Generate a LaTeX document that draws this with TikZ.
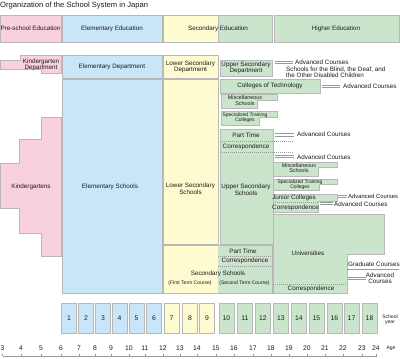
\documentclass[tikz,border=0pt]{standalone}
\usepackage{fontspec}
\setmainfont{Liberation Sans}
\definecolor{pk}{HTML}{F9D0DE}
\definecolor{bl}{HTML}{C9E6F9}
\definecolor{ye}{HTML}{FFFBD0}
\definecolor{gr}{HTML}{CAE5CB}
\definecolor{bord}{HTML}{B8B8B8}
\definecolor{txt}{HTML}{1A1A1A}
\definecolor{ln}{HTML}{999999}
\begin{document}
\begin{tikzpicture}[x=1pt,y=-1pt,
  bx/.style={draw=bord, line width=0.5pt},
  lab/.style={font=\fontsize{6.3}{5.8}\selectfont, text=txt, inner sep=0pt, align=center},
  sm/.style={font=\fontsize{5.4}{5.2}\selectfont, text=txt, inner sep=0pt, align=center},
  xs/.style={font=\fontsize{5}{5}\selectfont, text=txt, inner sep=0pt, align=center},
  dl/.style={draw=ln, line width=0.4pt},
  dt/.style={draw=ln, line width=0.4pt, dash pattern=on 1pt off 1pt}]
\useasboundingbox (0,0) rectangle (400,359);

\node[anchor=west, font=\fontsize{7.6}{8}\selectfont, text=txt, inner sep=0pt] (title) at (0,6) {Organization of the School System in Japan};

% header row
\filldraw[pk, bx] (0,15) rectangle (61,42);
\node[lab] (hpre) at (30.5,28.5) {Pre-school Education};
\filldraw[bl, bx] (62,15) rectangle (162,42);
\node[lab] (hele) at (112,28.5) {Elementary Education};
\filldraw[ye, bx] (163,15) rectangle (218,42);
\filldraw[gr, bx] (218,15) rectangle (272,42);
\node[lab] (hsec) at (218,28.5) {Secondary Education};
\filldraw[gr, bx] (274,15) rectangle (399,42);
\node[lab] (hhig) at (336,28.5) {Higher Education};

% kindergarten department
\filldraw[pk, bx] (0,60.5) -- (20,60.5) -- (20,55) -- (61,55) -- (61,73) -- (41,73) -- (41,69) -- (0,69) -- cycle;
\node[lab] (kdep) at (41,64.5) {Kindergarten\\Department};

% kindergartens
\filldraw[pk, bx] (41,117) -- (61,117) -- (61,256) -- (41,256) -- (41,233) -- (19,233) -- (19,208) -- (0,208) -- (0,163) -- (19,163) -- (19,139) -- (41,139) -- cycle;
\node[lab] (kind) at (31,187) {Kindergartens};

% elementary
\filldraw[bl, bx] (62,55) rectangle (162,78);
\node[lab] (edep) at (112,66.5) {Elementary Department};
\filldraw[bl, bx] (62,79) rectangle (162,293);
\node[lab] (esch) at (110,187) {Elementary Schools};

% lower secondary
\filldraw[ye, bx] (163,55) rectangle (218,78);
\node[lab] (ldep) at (190.5,67) {Lower Secondary\\Department};
\filldraw[ye, bx] (163,79) rectangle (218,244);
\node[lab] (lsch) at (190.5,189) {Lower Secondary\\Schools};

% upper secondary department
\filldraw[gr, bx] (220,60) rectangle (272,76);
\node[lab] (udep) at (246,67.5) {Upper Secondary\\Department};
\draw[dl] (275,61.3) -- (293,61.3) (275,63.5) -- (293,63.5);
\node[lab, anchor=west] (adv1) at (295,62.5) {Advanced Courses};
\node[lab, anchor=west, align=left] (blind) at (286,72) {Schools for the Blind, the Deaf, and\\the Other Disabled Children};

% colleges of technology
\filldraw[gr, bx] (220,79) rectangle (320,93);
\node[lab] (coll) at (270,86) {Colleges of Technology};
\draw[dl] (322,85) -- (340,85) (322,87.2) -- (340,87.2);
\node[lab, anchor=west] (adv2) at (343,86) {Advanced Courses};

% misc 1
\filldraw[gr, bx] (221,94) -- (277,94) -- (277,100) -- (257,100) -- (257,108) -- (221,108) -- cycle;
\node[sm] (misc1) at (245,100.5) {Miscellaneous\\Schools};
% spec 1
\filldraw[gr, bx] (221,111) -- (277,111) -- (277,117) -- (259,117) -- (259,125) -- (221,125) -- cycle;
\node[xs] (spec1) at (245,118) {Specialized Training\\Colleges};

% upper secondary schools
\filldraw[gr, bx] (220,129) rectangle (273,244);
\node[lab] (psch) at (246,135) {Part Time};
\draw[dt] (220,141) -- (293,141);
\node[lab] (pcor) at (246,147) {Correspondence};
\draw[dt] (220,152) -- (293,152);
\node[lab] (usch) at (246,189.5) {Upper Secondary\\Schools};
\draw[dl] (275,133.3) -- (294,133.3) (275,135.7) -- (294,135.7);
\node[lab, anchor=west] (adv3) at (297,134) {Advanced Courses};
\draw[dl] (275,155) -- (294,155) (275,157.3) -- (294,157.3);
\node[lab, anchor=west] (adv4) at (297,157) {Advanced Courses};

% misc 2
\filldraw[gr, bx] (273,162) -- (337,162) -- (337,167) -- (318,167) -- (318,176) -- (273,176) -- cycle;
\node[sm] (misc2) at (299,168) {Miscellaneous\\Schools};
% spec 2
\filldraw[gr, bx] (273,179) -- (337,179) -- (337,184) -- (319,184) -- (319,190) -- (273,190) -- cycle;
\node[xs] (spec2) at (300,184.5) {Specialized Training\\Colleges};
% junior colleges
\filldraw[gr, bx] (273,194) -- (337,194) -- (337,201) -- (318,201) -- (318,212) -- (273,212) -- cycle;
\draw[dt] (273,202.5) -- (318,202.5);
\node[lab] (jc) at (294,198) {Junior Colleges};
\node[lab] (jcor) at (295.5,207.5) {Correspondence};
\draw[dl] (338,194.8) -- (347,194.8) (338,197) -- (347,197);
\node[lab, anchor=west, font=\fontsize{5.9}{5.8}\selectfont] (adv5) at (348,196) {Advanced Courses};
\draw[dl] (320,202) -- (333,202) (320,204.5) -- (333,204.5);
\node[lab, anchor=west] (adv6) at (334,204) {Advanced Courses};

% universities
\filldraw[gr, bx] (273,214) -- (384,214) -- (384,254) -- (347,254) -- (347,293) -- (273,293) -- cycle;
\draw[dt] (273,284) -- (347,284);
\node[lab] (univ) at (308,253) {Universities};
\node[lab] (ucor) at (311,289) {Correspondence};
\node[lab, anchor=west] (grad) at (348,264) {Graduate Courses};
\draw[dl] (347,269) -- (399,269);
\draw[dl] (348,276.7) -- (366,276.7) (348,279.2) -- (366,279.2);
\node[lab] (adv7) at (380,278) {Advanced\\Courses};

% secondary schools
\fill[ye] (163,245) rectangle (218,293);
\fill[gr] (218,245) rectangle (272,293);
\draw[bx] (163,245) rectangle (272,293);
\node[lab] (ssp) at (243,251) {Part Time};
\draw[dt] (218,256) -- (272,256);
\node[lab] (ssc) at (245,261) {Correspondence};
\draw[dt] (218,266) -- (272,266);
\node[lab] (ss) at (218,274) {Secondary Schools};
\node[xs] (ss1) at (190,283) {(First Term Course)};
\node[xs] (ss2) at (244.5,283) {(Second Term Course)};

% school years
\foreach \c/\col [count=\n] in {69/bl,86/bl,103/bl,119.5/bl,136.5/bl,154/bl,171.5/ye,190/ye,207/ye,226.5/gr,245/gr,263/gr,281/gr,299/gr,316.5/gr,334.5/gr,351.5/gr,369.5/gr}{
  \filldraw[fill=\col, bx] (\c-7.5,303) rectangle (\c+7.5,333);
  \node[lab, font=\fontsize{6.8}{7}\selectfont] (yr\n) at (\c,318) {\n};
}
\node[xs] (syr) at (390,319.5) {School\\year};

% ages
\draw[draw=ln, line width=0.4pt] (3,356) -- (377,356);
\foreach \x/\a in {2.5/3,21/4,41/5,61/6,79/7,95/8,111/9,129/10,145/11,163/12,180/13,197/14,216/15,234/16,253/17,271/18,289/19,307/20,325/21,343/22,362/23,376/24}{
  \node[lab, font=\fontsize{6.8}{7}\selectfont] (age\a) at (\x,348) {\a};
  \draw[draw=ln, line width=0.4pt] (\x,353.5) -- (\x,356);
}
\node[xs] (agel) at (391,348) {Age};
\end{tikzpicture}
\end{document}
